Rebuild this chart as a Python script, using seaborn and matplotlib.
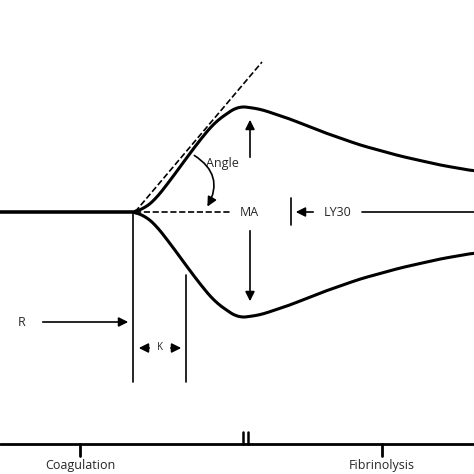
import numpy as np
import matplotlib
matplotlib.use("Agg")
import matplotlib.pyplot as plt
import seaborn as sns
import pandas as pd

sns.set_style("white")
plt.rcParams['font.family'] = ['Open Sans', 'DejaVu Sans']

base_y = 212
trace_x = [0, 135, 145, 155, 165, 175, 185, 200, 215, 238, 260, 290, 320, 360, 400, 440, 474]
amplitude = [0, 0, 4, 12, 25, 38, 52, 72, 90, 106, 103, 93, 81, 67, 56, 47, 41]
axis_labels = ["Coagulation", "Fibrinolysis"]
axis_ticks = [80, 382]

xs = np.linspace(-40, 514, 800)
amp = np.interp(xs, trace_x, amplitude)
k = np.ones(25) / 25
amp = np.convolve(amp, k, mode="same")
amp[xs <= 135] = 0
df = pd.DataFrame({"x": np.concatenate([xs, xs]),
                   "y": np.concatenate([base_y - amp, base_y + amp]),
                   "side": ["upper"] * len(xs) + ["lower"] * len(xs)})

fig = plt.figure(figsize=(4.74, 4.74), dpi=100)
ax = fig.add_axes([0, 0, 1, 1])
sns.lineplot(data=df, x="x", y="y", units="side", estimator=None, color="black", lw=2.2, ax=ax, sort=False)
ax.set_xlim(0, 474)
ax.set_ylim(474, 0)
ax.axis("off")

kw = dict(color="black", lw=1.2)
# tangent & horizontal dashed
ax.plot([135, 262], [212, 62], ls="--", **kw)
ax.plot([135, 232], [212, 212], ls="--", **kw)
# vertical markers
ax.plot([133, 133], [212, 382], **kw)
ax.plot([186, 186], [275, 382], **kw)

def arrow(x0, y0, x1, y1, **extra):
    ax.annotate("", xy=(x1, y1), xytext=(x0, y0),
                arrowprops=dict(arrowstyle="-|>", color="black", lw=1.2, mutation_scale=14, **extra))

# MA
arrow(250, 160, 250, 117)
arrow(250, 228, 250, 304)
ax.text(249, 212, "MA", ha="center", va="center", fontsize=9)
# Angle
ax.text(222, 163, "Angle", ha="center", va="center", fontsize=9)
arrow(192, 154, 206, 209, connectionstyle="arc3,rad=-0.5")
# LY30
ax.plot([291, 291], [198, 225], **kw)
arrow(316, 212, 293, 212)
ax.text(338, 212, "LY30", ha="center", va="center", fontsize=9)
ax.plot([362, 474], [212, 212], **kw)
# R
ax.text(22, 322, "R", ha="center", va="center", fontsize=9)
arrow(40, 322, 131, 322)
# K
arrow(152, 348, 136, 348)
arrow(168, 348, 184, 348)
ax.text(160, 348, "K", ha="center", va="center", fontsize=7)
# time axis
ax.plot([0, 474], [444, 444], color="black", lw=2)
for t, lab in zip(axis_ticks, axis_labels):
    ax.plot([t, t], [444, 456], color="black", lw=2)
    ax.text(t, 466, lab, ha="center", va="center", fontsize=9)
ax.plot([243, 243], [432, 444], color="black", lw=1.8)
ax.plot([248, 248], [432, 444], color="black", lw=1.8)

fig.savefig("out.png", dpi=100, facecolor="white")
